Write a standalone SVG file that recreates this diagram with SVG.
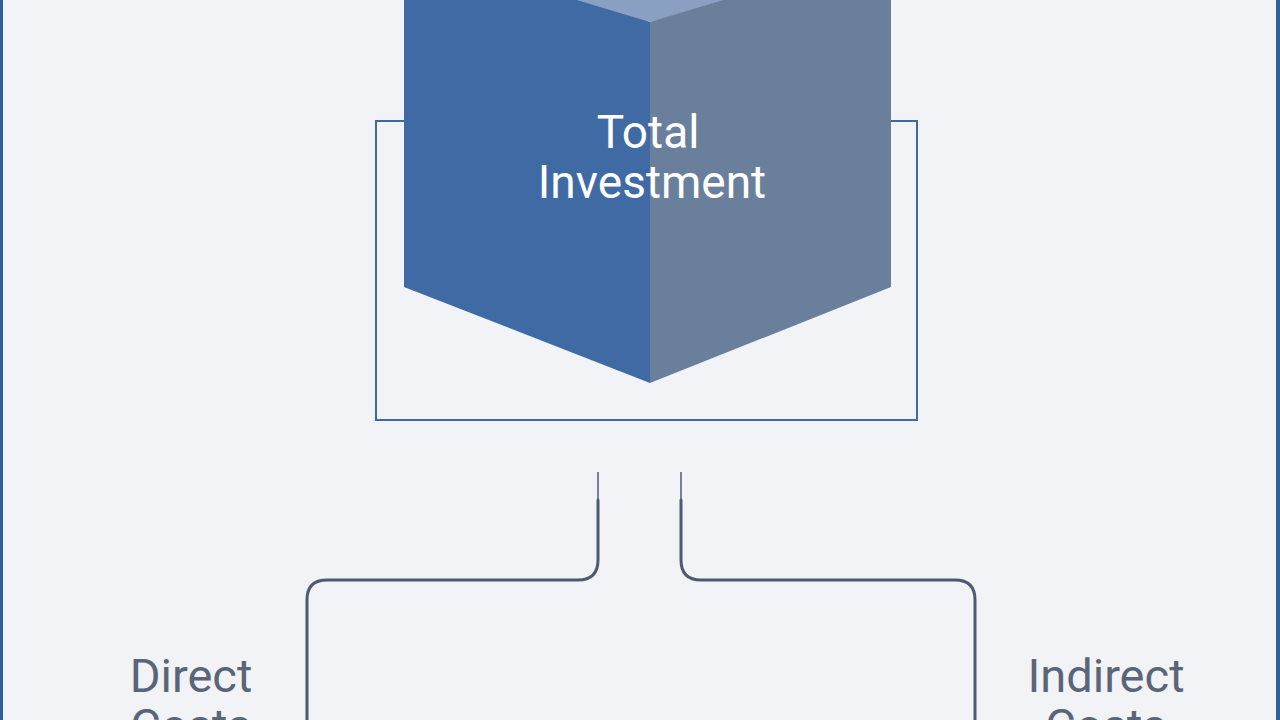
<svg xmlns="http://www.w3.org/2000/svg" width="1280" height="720" viewBox="0 0 1280 720">
<style>
.lbl{font-family:Roboto,"Liberation Sans",sans-serif;font-size:47px;fill:#5b6578;text-anchor:middle}
.ttl{font-family:Roboto,"Liberation Sans",sans-serif;font-size:46px;fill:#ffffff;text-anchor:middle}
.conn{fill:none;stroke:#4f5a70;stroke-width:3;stroke-linecap:round}
.stub{fill:none;stroke:#4f5a70;stroke-width:1.5}
</style>
<rect width="1280" height="720" fill="#f1f3f6"/>
<rect x="0" y="0" width="3" height="720" fill="#2e5f9a"/>
<rect x="1276" y="0" width="4" height="720" fill="#2e5f9a"/>
<g id="total-investment">
<rect x="376" y="121" width="541" height="299" fill="none" stroke="#3d68a6" stroke-width="2"/>
<polygon points="404,-74 650,22 650,383 404,287" fill="#3f6aa3"/>
<polygon points="650,22 891,-74 891,287 650,383" fill="#6a7f9c"/>
<polygon points="650,22 540,-11 650,-50 760,-11" fill="#8aa0c2"/>
<text class="ttl" x="648" y="148">Total</text>
<text class="ttl" x="652" y="198">Investment</text>
</g>
<g id="connectors">
<path class="stub" d="M598,472 V500"/>
<path class="stub" d="M681,472 V500"/>
<path class="conn" d="M598,500 V560 Q598,580 578,580 H327 Q307,580 307,600 V725"/>
<path class="conn" d="M681,500 V560 Q681,580 701,580 H955 Q975,580 975,600 V725"/>
</g>
<g id="direct-costs">
<text class="lbl" x="191" y="692">Direct</text>
<text class="lbl" x="191" y="742">Costs</text>
</g>
<g id="indirect-costs">
<text class="lbl" x="1106" y="692">Indirect</text>
<text class="lbl" x="1106" y="742">Costs</text>
</g>
</svg>
